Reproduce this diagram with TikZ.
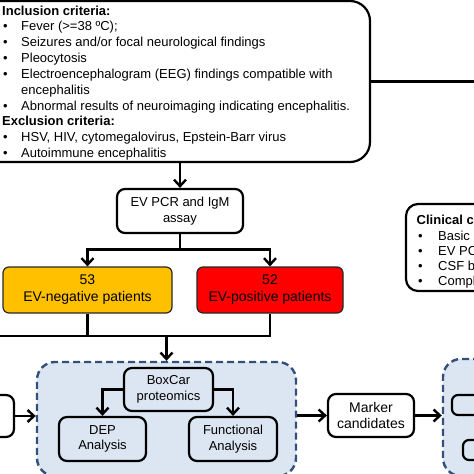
\documentclass[tikz,border=0pt]{standalone}
\usepackage{fontspec}
\setmainfont{Liberation Sans}
\usetikzlibrary{arrows.meta}
\definecolor{orng}{HTML}{FFC000}
\definecolor{lblue}{HTML}{DCE6F2}
\definecolor{dblue}{HTML}{34507A}
\begin{document}
\begin{tikzpicture}[x=1pt,y=-1pt,
  box/.style={draw=black, line width=2.2pt, rounded corners=8pt, align=center, inner sep=0pt,
    font=\fontsize{13}{15.5}\selectfont},
  pbox/.style={draw=black!85, line width=1.2pt, rounded corners=6pt, align=center, inner sep=0pt,
    font=\fontsize{14}{17}\selectfont},
  cont/.style={draw=dblue, fill=lblue, line width=2.4pt, dash pattern=on 7pt off 4pt, rounded corners=18pt},
  ln/.style={line width=2.8pt},
  arr/.style={line width=2.8pt, -{Straight Barb[length=6.5pt,width=12pt,line width=2.4pt]}},
  txt/.style={anchor=base west, inner sep=0pt, font=\fontsize{13}{15.5}\selectfont},
  btxt/.style={txt, font=\fontsize{13}{15.5}\selectfont\bfseries}
]
\useasboundingbox (0,0) rectangle (474,474);
\clip (0,0) rectangle (474,474);

% top criteria box
\node[box, minimum width=390pt, minimum height=161pt, rounded corners=20pt] (incl) at (175,81.5) {};
\node[btxt] (t1) at (2,15.5) {Inclusion criteria:};
\node[txt] (b2) at (3,30.5) {•}; \node[txt] (t2) at (21,30.5) {Fever (>=38 ºC);};
\node[txt] (b3) at (3,46.5) {•}; \node[txt] (t3) at (21,46.5) {Seizures and/or focal neurological findings};
\node[txt] (b4) at (3,62.3) {•}; \node[txt] (t4) at (21,62.3) {Pleocytosis};
\node[txt] (b5) at (3,78.2) {•}; \node[txt] (t5) at (21,78.2) {Electroencephalogram (EEG) findings compatible with};
\node[txt] (t6) at (21,94) {encephalitis};
\node[txt] (b7) at (3,110) {•}; \node[txt] (t7) at (21,110) {Abnormal results of neuroimaging indicating encephalitis.};
\node[btxt] (t8) at (2,125.5) {Exclusion criteria:};
\node[txt] (b9) at (3,141.5) {•}; \node[txt] (t9) at (21,141.5) {HSV, HIV, cytomegalovirus, Epstein-Barr virus};
\node[txt] (b10) at (3,157.3) {•}; \node[txt] (t10) at (21,157.3) {Autoimmune encephalitis};

\coordinate (rout) at (474,81.5);
\draw[ln] (incl.east) -- (rout);

% PCR
\node[box, minimum width=126pt, minimum height=44pt] (pcr) at (180,211) {EV PCR and IgM\\assay};
\draw[arr] (incl.south -| pcr.north) -- (pcr.north);

% patient groups
\node[pbox, fill=orng, minimum width=169pt, minimum height=46pt] (neg) at (87.5,290) {53\\EV-negative patients};
\node[pbox, fill=red, minimum width=146pt, minimum height=46pt] (pos) at (270,290) {52\\EV-positive patients};
\draw[arr] (pcr.south) -- ++(0,15) -| (neg.north);
\draw[arr] (pcr.south) -- ++(0,15) -| (pos.north);

% container
\node[cont, minimum width=259pt, minimum height=114pt] (cont1) at (166.5,419) {};
\coordinate (m0) at (0,336);
\draw[ln] (neg.south) |- (m0);
\draw[ln] (pos.south) |- (m0);
\draw[arr] (cont1.north |- m0) -- (cont1.north);

\node[box, fill=lblue, minimum width=89pt, minimum height=43pt] (boxcar) at (168.5,389.5) {BoxCar\\proteomics};
\node[box, fill=lblue, minimum width=87pt, minimum height=44pt] (dep) at (102.5,439) {DEP\\Analysis};
\node[box, fill=lblue, minimum width=88pt, minimum height=44pt] (func) at (233,439) {Functional\\Analysis};
\draw[arr] (boxcar.west) -| (dep.north);
\draw[arr] (boxcar.east) -| (func.north);

% left partial box
\node[box, fill=white, minimum width=34pt, minimum height=42pt] (lbox) at (-3,416) {};
\draw[arr] (lbox.east) -- (lbox.east -| cont1.west);

% marker
\node[box, fill=white, minimum width=86pt, minimum height=43pt, font=\fontsize{14}{16}\selectfont] (marker) at (371,415.5) {Marker\\candidates};
\draw[arr] (marker.west -| cont1.east) -- (marker.west);

% right container
\node[cont, minimum width=77pt, minimum height=117pt] (cont2) at (481.5,417.5) {};
\draw[arr] (marker.east) -- (marker.east -| cont2.west);
\node[box, fill=lblue, minimum width=68pt, minimum height=20pt, rounded corners=6pt] (rb1) at (486,405) {};
\node[box, fill=lblue, minimum width=57pt, minimum height=20pt, rounded corners=6pt] (rb2) at (491.5,450) {};

% clinical box
\node[box, minimum width=114pt, minimum height=87pt, rounded corners=12pt] (clin) at (463,247.5) {};
\node[btxt] (c1) at (416.5,224.5) {Clinical c};
\node[txt] (cb2) at (418,240.5) {•}; \node[txt] (c2) at (438,240.5) {Basic i};
\node[txt] (cb3) at (418,255.5) {•}; \node[txt] (c3) at (438,255.5) {EV PC};
\node[txt] (cb4) at (418,270.5) {•}; \node[txt] (c4) at (438,270.5) {CSF b};
\node[txt] (cb5) at (418,285.5) {•}; \node[txt] (c5) at (438,285.5) {Compl};
\end{tikzpicture}
\end{document}
